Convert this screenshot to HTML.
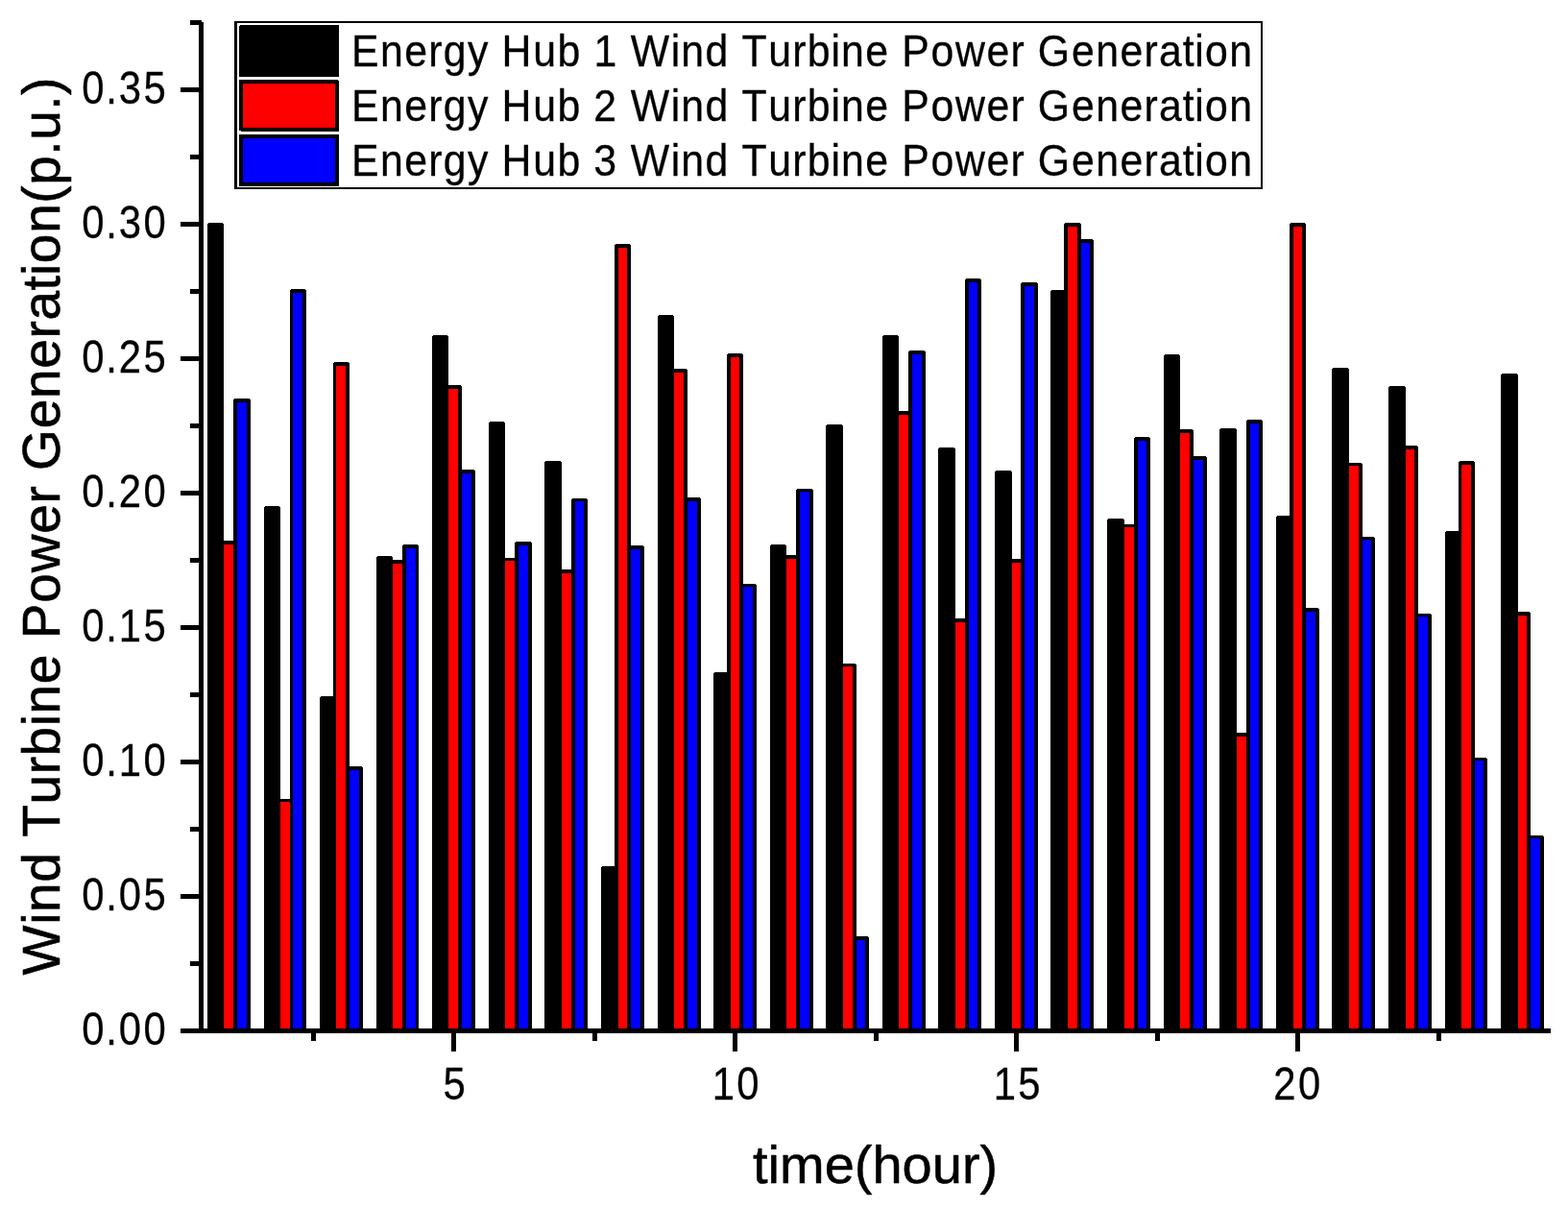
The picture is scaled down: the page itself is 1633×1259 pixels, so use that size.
<!DOCTYPE html>
<html lang="en"><head><meta charset="utf-8"><title>Wind Turbine Power Generation</title>
<style>
html,body{margin:0;padding:0;background:#fff;}
body{width:1633px;height:1259px;overflow:hidden;}
svg{display:block;}
text{font-family:"Liberation Sans",sans-serif;fill:#000;white-space:pre;}
</style></head><body>
<svg width="1633" height="1259" viewBox="0 0 1633 1259" role="img" aria-label="Wind turbine power generation bar chart">
<rect x="0" y="0" width="1633" height="1259" fill="#fff"/>
<g shape-rendering="crispEdges">
<rect x="217" y="232" width="15" height="1" fill="#000"/>
<rect x="216" y="233" width="17" height="840" fill="#000"/>
<rect x="231" y="563" width="15" height="1" fill="#000"/>
<rect x="230" y="564" width="17" height="509" fill="#000"/>
<rect x="233" y="567" width="10" height="504" fill="#ff0000"/>
<rect x="244" y="415" width="16" height="1" fill="#000"/>
<rect x="243" y="416" width="18" height="657" fill="#000"/>
<rect x="247" y="419" width="10" height="652" fill="#0000ff"/>
<rect x="276" y="527" width="15" height="1" fill="#000"/>
<rect x="275" y="528" width="17" height="545" fill="#000"/>
<rect x="290" y="832" width="14" height="1" fill="#000"/>
<rect x="289" y="833" width="16" height="240" fill="#000"/>
<rect x="292" y="835" width="10" height="236" fill="#ff0000"/>
<rect x="303" y="301" width="15" height="1" fill="#000"/>
<rect x="302" y="302" width="17" height="771" fill="#000"/>
<rect x="305" y="305" width="10" height="766" fill="#0000ff"/>
<rect x="334" y="725" width="15" height="1" fill="#000"/>
<rect x="333" y="726" width="17" height="347" fill="#000"/>
<rect x="348" y="377" width="15" height="1" fill="#000"/>
<rect x="347" y="378" width="17" height="695" fill="#000"/>
<rect x="350" y="381" width="10" height="690" fill="#ff0000"/>
<rect x="361" y="798" width="16" height="1" fill="#000"/>
<rect x="360" y="799" width="18" height="274" fill="#000"/>
<rect x="364" y="802" width="10" height="269" fill="#0000ff"/>
<rect x="393" y="579" width="15" height="1" fill="#000"/>
<rect x="392" y="580" width="17" height="493" fill="#000"/>
<rect x="407" y="583" width="15" height="1" fill="#000"/>
<rect x="406" y="584" width="17" height="489" fill="#000"/>
<rect x="409" y="587" width="10" height="484" fill="#ff0000"/>
<rect x="420" y="567" width="15" height="1" fill="#000"/>
<rect x="419" y="568" width="17" height="505" fill="#000"/>
<rect x="423" y="571" width="10" height="500" fill="#0000ff"/>
<rect x="451" y="349" width="15" height="1" fill="#000"/>
<rect x="450" y="350" width="17" height="723" fill="#000"/>
<rect x="465" y="401" width="15" height="1" fill="#000"/>
<rect x="464" y="402" width="17" height="671" fill="#000"/>
<rect x="467" y="405" width="10" height="666" fill="#ff0000"/>
<rect x="478" y="489" width="16" height="1" fill="#000"/>
<rect x="477" y="490" width="18" height="583" fill="#000"/>
<rect x="481" y="493" width="10" height="578" fill="#0000ff"/>
<rect x="510" y="439" width="15" height="1" fill="#000"/>
<rect x="509" y="440" width="17" height="633" fill="#000"/>
<rect x="524" y="581" width="15" height="1" fill="#000"/>
<rect x="523" y="582" width="17" height="491" fill="#000"/>
<rect x="526" y="584" width="10" height="487" fill="#ff0000"/>
<rect x="537" y="564" width="16" height="1" fill="#000"/>
<rect x="536" y="565" width="18" height="508" fill="#000"/>
<rect x="540" y="568" width="10" height="503" fill="#0000ff"/>
<rect x="568" y="480" width="16" height="1" fill="#000"/>
<rect x="567" y="481" width="18" height="592" fill="#000"/>
<rect x="582" y="593" width="16" height="1" fill="#000"/>
<rect x="581" y="594" width="18" height="479" fill="#000"/>
<rect x="585" y="597" width="10" height="474" fill="#ff0000"/>
<rect x="596" y="519" width="15" height="1" fill="#000"/>
<rect x="595" y="520" width="17" height="553" fill="#000"/>
<rect x="599" y="522" width="9" height="549" fill="#0000ff"/>
<rect x="627" y="902" width="16" height="1" fill="#000"/>
<rect x="626" y="903" width="18" height="170" fill="#000"/>
<rect x="641" y="254" width="15" height="1" fill="#000"/>
<rect x="640" y="255" width="17" height="818" fill="#000"/>
<rect x="644" y="258" width="9" height="813" fill="#ff0000"/>
<rect x="654" y="568" width="16" height="1" fill="#000"/>
<rect x="653" y="569" width="18" height="504" fill="#000"/>
<rect x="657" y="572" width="10" height="499" fill="#0000ff"/>
<rect x="686" y="328" width="15" height="1" fill="#000"/>
<rect x="685" y="329" width="17" height="744" fill="#000"/>
<rect x="700" y="384" width="15" height="1" fill="#000"/>
<rect x="699" y="385" width="17" height="688" fill="#000"/>
<rect x="702" y="388" width="10" height="683" fill="#ff0000"/>
<rect x="713" y="518" width="16" height="1" fill="#000"/>
<rect x="712" y="519" width="18" height="554" fill="#000"/>
<rect x="716" y="522" width="10" height="549" fill="#0000ff"/>
<rect x="744" y="700" width="16" height="1" fill="#000"/>
<rect x="743" y="701" width="18" height="372" fill="#000"/>
<rect x="758" y="368" width="15" height="1" fill="#000"/>
<rect x="757" y="369" width="17" height="704" fill="#000"/>
<rect x="761" y="372" width="9" height="699" fill="#ff0000"/>
<rect x="771" y="608" width="16" height="1" fill="#000"/>
<rect x="770" y="609" width="18" height="464" fill="#000"/>
<rect x="774" y="611" width="10" height="460" fill="#0000ff"/>
<rect x="803" y="567" width="15" height="1" fill="#000"/>
<rect x="802" y="568" width="17" height="505" fill="#000"/>
<rect x="817" y="578" width="15" height="1" fill="#000"/>
<rect x="816" y="579" width="17" height="494" fill="#000"/>
<rect x="819" y="582" width="10" height="489" fill="#ff0000"/>
<rect x="830" y="509" width="16" height="1" fill="#000"/>
<rect x="829" y="510" width="18" height="563" fill="#000"/>
<rect x="833" y="512" width="10" height="559" fill="#0000ff"/>
<rect x="861" y="442" width="16" height="1" fill="#000"/>
<rect x="860" y="443" width="18" height="630" fill="#000"/>
<rect x="875" y="691" width="16" height="1" fill="#000"/>
<rect x="874" y="692" width="18" height="381" fill="#000"/>
<rect x="878" y="694" width="10" height="377" fill="#ff0000"/>
<rect x="889" y="975" width="15" height="1" fill="#000"/>
<rect x="888" y="976" width="17" height="97" fill="#000"/>
<rect x="892" y="979" width="9" height="92" fill="#0000ff"/>
<rect x="920" y="349" width="15" height="1" fill="#000"/>
<rect x="919" y="350" width="17" height="723" fill="#000"/>
<rect x="934" y="428" width="15" height="1" fill="#000"/>
<rect x="933" y="429" width="17" height="644" fill="#000"/>
<rect x="936" y="432" width="10" height="639" fill="#ff0000"/>
<rect x="947" y="365" width="16" height="1" fill="#000"/>
<rect x="946" y="366" width="18" height="707" fill="#000"/>
<rect x="950" y="369" width="10" height="702" fill="#0000ff"/>
<rect x="978" y="466" width="16" height="1" fill="#000"/>
<rect x="977" y="467" width="18" height="606" fill="#000"/>
<rect x="992" y="644" width="16" height="1" fill="#000"/>
<rect x="991" y="645" width="18" height="428" fill="#000"/>
<rect x="995" y="648" width="10" height="423" fill="#ff0000"/>
<rect x="1006" y="290" width="15" height="1" fill="#000"/>
<rect x="1005" y="291" width="17" height="782" fill="#000"/>
<rect x="1009" y="294" width="9" height="777" fill="#0000ff"/>
<rect x="1037" y="490" width="16" height="1" fill="#000"/>
<rect x="1036" y="491" width="18" height="582" fill="#000"/>
<rect x="1051" y="582" width="15" height="1" fill="#000"/>
<rect x="1050" y="583" width="17" height="490" fill="#000"/>
<rect x="1054" y="586" width="9" height="485" fill="#ff0000"/>
<rect x="1064" y="294" width="16" height="1" fill="#000"/>
<rect x="1063" y="295" width="18" height="778" fill="#000"/>
<rect x="1067" y="298" width="10" height="773" fill="#0000ff"/>
<rect x="1095" y="302" width="16" height="1" fill="#000"/>
<rect x="1094" y="303" width="18" height="770" fill="#000"/>
<rect x="1109" y="232" width="16" height="1" fill="#000"/>
<rect x="1108" y="233" width="18" height="840" fill="#000"/>
<rect x="1112" y="236" width="10" height="835" fill="#ff0000"/>
<rect x="1123" y="249" width="15" height="1" fill="#000"/>
<rect x="1122" y="250" width="17" height="823" fill="#000"/>
<rect x="1126" y="253" width="9" height="818" fill="#0000ff"/>
<rect x="1154" y="540" width="16" height="1" fill="#000"/>
<rect x="1153" y="541" width="18" height="532" fill="#000"/>
<rect x="1168" y="546" width="16" height="1" fill="#000"/>
<rect x="1167" y="547" width="18" height="526" fill="#000"/>
<rect x="1171" y="549" width="10" height="522" fill="#ff0000"/>
<rect x="1182" y="455" width="15" height="1" fill="#000"/>
<rect x="1181" y="456" width="17" height="617" fill="#000"/>
<rect x="1185" y="459" width="9" height="612" fill="#0000ff"/>
<rect x="1213" y="369" width="15" height="1" fill="#000"/>
<rect x="1212" y="370" width="17" height="703" fill="#000"/>
<rect x="1227" y="447" width="15" height="1" fill="#000"/>
<rect x="1226" y="448" width="17" height="625" fill="#000"/>
<rect x="1229" y="451" width="10" height="620" fill="#ff0000"/>
<rect x="1240" y="475" width="16" height="1" fill="#000"/>
<rect x="1239" y="476" width="18" height="597" fill="#000"/>
<rect x="1243" y="479" width="10" height="592" fill="#0000ff"/>
<rect x="1271" y="446" width="16" height="1" fill="#000"/>
<rect x="1270" y="447" width="18" height="626" fill="#000"/>
<rect x="1285" y="763" width="16" height="1" fill="#000"/>
<rect x="1284" y="764" width="18" height="309" fill="#000"/>
<rect x="1288" y="767" width="10" height="304" fill="#ff0000"/>
<rect x="1299" y="437" width="15" height="1" fill="#000"/>
<rect x="1298" y="438" width="17" height="635" fill="#000"/>
<rect x="1302" y="441" width="9" height="630" fill="#0000ff"/>
<rect x="1330" y="537" width="16" height="1" fill="#000"/>
<rect x="1329" y="538" width="18" height="535" fill="#000"/>
<rect x="1344" y="232" width="15" height="1" fill="#000"/>
<rect x="1343" y="233" width="17" height="840" fill="#000"/>
<rect x="1347" y="236" width="9" height="835" fill="#ff0000"/>
<rect x="1357" y="633" width="16" height="1" fill="#000"/>
<rect x="1356" y="634" width="18" height="439" fill="#000"/>
<rect x="1360" y="637" width="10" height="434" fill="#0000ff"/>
<rect x="1388" y="383" width="16" height="1" fill="#000"/>
<rect x="1387" y="384" width="18" height="689" fill="#000"/>
<rect x="1402" y="482" width="16" height="1" fill="#000"/>
<rect x="1401" y="483" width="18" height="590" fill="#000"/>
<rect x="1405" y="485" width="10" height="586" fill="#ff0000"/>
<rect x="1416" y="559" width="15" height="1" fill="#000"/>
<rect x="1415" y="560" width="17" height="513" fill="#000"/>
<rect x="1419" y="562" width="9" height="509" fill="#0000ff"/>
<rect x="1447" y="402" width="16" height="1" fill="#000"/>
<rect x="1446" y="403" width="18" height="670" fill="#000"/>
<rect x="1461" y="464" width="15" height="1" fill="#000"/>
<rect x="1460" y="465" width="17" height="608" fill="#000"/>
<rect x="1464" y="468" width="9" height="603" fill="#ff0000"/>
<rect x="1474" y="639" width="16" height="1" fill="#000"/>
<rect x="1473" y="640" width="18" height="433" fill="#000"/>
<rect x="1477" y="642" width="10" height="429" fill="#0000ff"/>
<rect x="1506" y="553" width="15" height="1" fill="#000"/>
<rect x="1505" y="554" width="17" height="519" fill="#000"/>
<rect x="1520" y="480" width="15" height="1" fill="#000"/>
<rect x="1519" y="481" width="17" height="592" fill="#000"/>
<rect x="1522" y="484" width="10" height="587" fill="#ff0000"/>
<rect x="1533" y="789" width="15" height="1" fill="#000"/>
<rect x="1532" y="790" width="17" height="283" fill="#000"/>
<rect x="1536" y="792" width="9" height="279" fill="#0000ff"/>
<rect x="1564" y="389" width="16" height="1" fill="#000"/>
<rect x="1563" y="390" width="18" height="683" fill="#000"/>
<rect x="1578" y="637" width="15" height="1" fill="#000"/>
<rect x="1577" y="638" width="17" height="435" fill="#000"/>
<rect x="1581" y="641" width="9" height="430" fill="#ff0000"/>
<rect x="1591" y="870" width="16" height="1" fill="#000"/>
<rect x="1590" y="871" width="18" height="202" fill="#000"/>
<rect x="1594" y="873" width="10" height="198" fill="#0000ff"/>
</g>
<g shape-rendering="crispEdges" fill="#000">
<rect x="207" y="21" width="3" height="1055"/>
<rect x="210" y="23" width="2" height="1053"/>
<rect x="207" y="1071" width="1408" height="5"/>
<rect x="188" y="1071" width="19" height="5"/>
<rect x="188" y="931" width="19" height="5"/>
<rect x="188" y="791" width="19" height="5"/>
<rect x="188" y="651" width="19" height="5"/>
<rect x="188" y="511" width="19" height="5"/>
<rect x="188" y="371" width="19" height="5"/>
<rect x="188" y="231" width="19" height="5"/>
<rect x="188" y="91" width="19" height="5"/>
<rect x="198" y="1001" width="9" height="5"/>
<rect x="198" y="861" width="9" height="5"/>
<rect x="198" y="721" width="9" height="5"/>
<rect x="198" y="581" width="9" height="5"/>
<rect x="198" y="441" width="9" height="5"/>
<rect x="198" y="301" width="9" height="5"/>
<rect x="198" y="161" width="9" height="5"/>
<rect x="198" y="21" width="9" height="5"/>
<rect x="470" y="1076" width="5" height="19"/>
<rect x="763" y="1076" width="5" height="19"/>
<rect x="1056" y="1076" width="5" height="19"/>
<rect x="1349" y="1076" width="5" height="19"/>
<rect x="324" y="1076" width="5" height="8"/>
<rect x="617" y="1076" width="5" height="8"/>
<rect x="910" y="1076" width="5" height="8"/>
<rect x="1203" y="1076" width="5" height="8"/>
<rect x="1496" y="1076" width="5" height="8"/>
</g>
<text transform="translate(83.94 1087.70) scale(0.8800 1)" font-size="47.50" x="1.41 29.94 45.25 74.49" y="0" stroke="#000" stroke-width="0.30" stroke-linejoin="round">0.00</text>
<text transform="translate(83.94 947.70) scale(0.8800 1)" font-size="47.50" x="1.41 29.94 45.25 74.48" y="0" stroke="#000" stroke-width="0.30" stroke-linejoin="round">0.05</text>
<text transform="translate(83.94 807.70) scale(0.8800 1)" font-size="47.50" x="1.41 29.94 45.32 74.49" y="0" stroke="#000" stroke-width="0.30" stroke-linejoin="round">0.10</text>
<text transform="translate(83.94 667.70) scale(0.8800 1)" font-size="47.50" x="1.41 29.94 45.32 74.48" y="0" stroke="#000" stroke-width="0.30" stroke-linejoin="round">0.15</text>
<text transform="translate(83.94 527.70) scale(0.8800 1)" font-size="47.50" x="1.41 29.94 45.25 74.49" y="0" stroke="#000" stroke-width="0.30" stroke-linejoin="round">0.20</text>
<text transform="translate(83.94 387.70) scale(0.8800 1)" font-size="47.50" x="1.41 29.94 45.25 74.48" y="0" stroke="#000" stroke-width="0.30" stroke-linejoin="round">0.25</text>
<text transform="translate(83.94 247.70) scale(0.8800 1)" font-size="47.50" x="1.41 29.94 45.24 74.49" y="0" stroke="#000" stroke-width="0.30" stroke-linejoin="round">0.30</text>
<text transform="translate(83.94 107.70) scale(0.8800 1)" font-size="47.50" x="1.41 29.94 45.24 74.48" y="0" stroke="#000" stroke-width="0.30" stroke-linejoin="round">0.35</text>
<text transform="translate(460.30 1144.60) scale(0.8800 1)" font-size="47.50" x="1.40" y="0" stroke="#000" stroke-width="0.30" stroke-linejoin="round">5</text>
<text transform="translate(740.38 1144.60) scale(0.8800 1)" font-size="47.50" x="1.48 30.65" y="0" stroke="#000" stroke-width="0.30" stroke-linejoin="round">10</text>
<text transform="translate(1033.33 1144.60) scale(0.8800 1)" font-size="47.50" x="1.48 30.64" y="0" stroke="#000" stroke-width="0.30" stroke-linejoin="round">15</text>
<text transform="translate(1324.98 1144.60) scale(0.8800 1)" font-size="47.50" x="1.41 30.65" y="0" stroke="#000" stroke-width="0.30" stroke-linejoin="round">20</text>
<text transform="translate(784.00 1232.20) scale(1.0000 1)" font-size="56.00" x="0.00 15.56 28.00 74.65 105.79 124.44 155.59 186.73 217.88 236.52" y="0" stroke="#000" stroke-width="0.50" stroke-linejoin="round">time(hour)</text>
<text transform="translate(62.20 1016.10) rotate(-90) scale(0.9821 1)" font-size="56.00" x="0.63 54.25 67.21 99.07 130.79 146.93 181.91 213.68 232.90 264.54 277.50 309.38 341.07 357.28 395.42 427.41 468.70 500.46 519.48 535.72 580.18 612.06 643.94 675.71 694.94 726.61 742.50 755.46 787.34 819.11 838.32 870.00 886.11 917.81 933.74" y="0" stroke="#000" stroke-width="0.60" stroke-linejoin="round">Wind Turbine Power Generation(p.u.)</text>
<g shape-rendering="crispEdges" fill="#000">
<rect x="244" y="22" width="3" height="175"/>
<rect x="244" y="22" width="1071" height="2"/>
<rect x="1313" y="22" width="2" height="175"/>
<rect x="244" y="195" width="1071" height="2"/>
<rect x="249" y="26" width="104" height="54" fill="#000"/>
<rect x="249" y="83" width="104" height="54" fill="#000"/>
<rect x="253" y="87" width="96" height="46" fill="#ff0000"/>
<rect x="249" y="140" width="104" height="54" fill="#000"/>
<rect x="253" y="144" width="96" height="46" fill="#0000ff"/>
<rect x="249" y="26" width="1" height="1" fill="#fff"/>
<rect x="352" y="83" width="1" height="1" fill="#fff"/>
<rect x="249" y="136" width="2" height="1" fill="#fff"/>
</g>
<text transform="translate(365.00 69.10) scale(0.9106 1)" font-size="47.00" x="1.03 34.10 61.85 89.36 106.20 133.91 158.54 173.06 208.85 236.65 263.97 278.28 305.59 320.43 366.48 378.06 405.78 433.17 447.52 477.93 505.43 522.34 549.58 561.15 588.91 616.26 630.74 663.82 691.82 727.62 755.13 771.60 786.16 824.69 852.45 880.20 907.71 924.65 951.95 965.72 977.30 1005.06" y="0" stroke="#000" stroke-width="0.30" stroke-linejoin="round">Energy Hub 1 Wind Turbine Power Generation</text>
<text transform="translate(365.00 126.10) scale(0.9106 1)" font-size="47.00" x="1.03 34.10 61.85 89.36 106.20 133.91 158.54 173.06 208.85 236.65 263.97 278.24 305.59 320.43 366.48 378.06 405.78 433.17 447.52 477.93 505.43 522.34 549.58 561.15 588.91 616.26 630.74 663.82 691.82 727.62 755.13 771.60 786.16 824.69 852.45 880.20 907.71 924.65 951.95 965.72 977.30 1005.06" y="0" stroke="#000" stroke-width="0.30" stroke-linejoin="round">Energy Hub 2 Wind Turbine Power Generation</text>
<text transform="translate(365.00 183.10) scale(0.9106 1)" font-size="47.00" x="1.03 34.10 61.85 89.36 106.20 133.91 158.54 173.06 208.85 236.65 263.97 278.23 305.59 320.43 366.48 378.06 405.78 433.17 447.52 477.93 505.43 522.34 549.58 561.15 588.91 616.26 630.74 663.82 691.82 727.62 755.13 771.60 786.16 824.69 852.45 880.20 907.71 924.65 951.95 965.72 977.30 1005.06" y="0" stroke="#000" stroke-width="0.30" stroke-linejoin="round">Energy Hub 3 Wind Turbine Power Generation</text>
</svg>
</body></html>
